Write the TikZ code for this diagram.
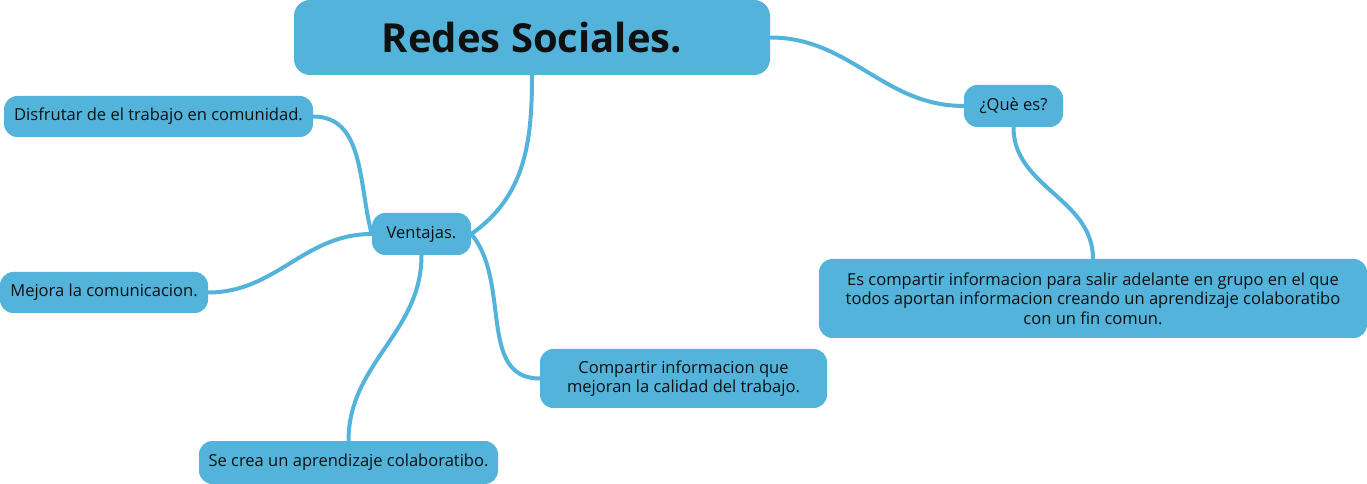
\documentclass[tikz,border=0pt]{standalone}
\usepackage{fontspec}
\setmainfont{Open Sans}
\usepackage{xcolor}
\usetikzlibrary{backgrounds}
\definecolor{mapblue}{HTML}{53B3DA}
\definecolor{maptext}{HTML}{101010}

\begin{document}
\begin{tikzpicture}[x=0.75pt,y=-0.75pt,
    box/.style={fill=mapblue, rounded corners=10pt, inner sep=0pt, align=center,
        text=maptext, font=\fontsize{12.4}{14.6}\selectfont},
    link/.style={draw=mapblue, line width=3pt, line cap=round}]
\useasboundingbox (0,0) rectangle (1367,484);

% central topic and the two main branches
\node[box, minimum width=476*0.75pt, minimum height=75*0.75pt, rounded corners=12pt,
    font=\fontsize{30}{36}\bfseries\selectfont] (title) at (532,37.5) {Redes Sociales.};
\node[box, minimum width=99*0.75pt, minimum height=42*0.75pt] (que) at (1013.5,106) {¿Què es?};
\node[box, minimum width=548*0.75pt, minimum height=79*0.75pt] (def) at (1093,298.5)
    {Es compartir informacion para salir adelante en grupo en el que\\todos aportan informacion creando un aprendizaje colaboratibo\\con un fin comun.};
\node[box, minimum width=99*0.75pt, minimum height=42*0.75pt] (vent) at (421.5,234) {Ventajas.};

% the advantages
\node[box, minimum width=309*0.75pt, minimum height=41*0.75pt] (disf) at (158.5,116.5) {Disfrutar de el trabajo en comunidad.};
\node[box, minimum width=208*0.75pt, minimum height=41*0.75pt] (mejora) at (104,292.5) {Mejora la comunicacion.};
\node[box, minimum width=287*0.75pt, minimum height=59*0.75pt] (comp) at (683.5,378.5) {Compartir informacion que\\mejoran la calidad del trabajo.};
\node[box, minimum width=299*0.75pt, minimum height=43*0.75pt] (secrea) at (348.5,462.5) {Se crea un aprendizaje colaboratibo.};

% connectors, behind the boxes
\begin{pgfonlayer}{background}
\draw[link] (title.south) to[out=-90,in=35] (vent.east);
\draw[link] (title.east) to[out=0,in=180] (que.west);
\draw[link] (que.south) to[out=-90,in=90] (def.north);
\draw[link] (vent.west) to[out=105,in=0] (disf.east);
\draw[link] (vent.west) to[out=180,in=0] (mejora.east);
\draw[link] (vent.east) to[out=-50,in=180] (comp.west);
\draw[link] (vent.south) to[out=-90,in=90] (secrea.north);
\end{pgfonlayer}
\end{tikzpicture}
\end{document}
